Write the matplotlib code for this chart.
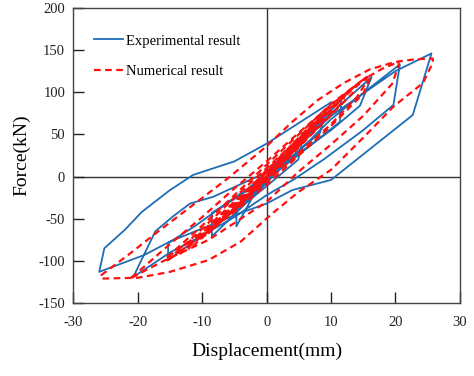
# Hysteresis curves: experimental vs numerical force-displacement

import numpy as np
import matplotlib.pyplot as plt

plt.rcParams['font.family'] = ['Liberation Serif', 'DejaVu Serif']
plt.rcParams['axes.unicode_minus'] = False

exp_x = [0, 2.5, 5.7, 4.9, 1.0, -3.0,
         -1.0, 3.0, 9.0, 8.3, 3.0, -1.5, -4.7,
         -4.7, 0.0, 5.0, 11.6, 11.4, 7.0, 2.0, -3.0, -8.5,
         -8.5, -4.0, 0.0, 5.0, 10.0, 16.3, 14.5, 10.0, 4.0, 0.0, -5.0, -10.0, -15.3,
         -15.3, -11.0, -5.0, 0.0, 5.0, 10.0, 16.0, 20.7,
         19.7, 15.0, 8.8, 4.1, 0.0, -5.0, -10.0, -15.0, -20.7,
         -17.3, -14.5, -11.9, -8.3, -2.6, 1.0, 10.0, 20.0, 25.6,
         22.7, 10.0, 4.0, 0.0, -4.0, -15.0, -19.0, -26.0,
         -25.2, -22.0, -19.4, -15.0, -11.4, -5.0, 0.0, 10.0]
exp_y = [0, 22, 47, 20, -5, -30,
         -15, 20, 75, 52, 18, -15, -59,
         -40, -5, 40, 91, 65, 38, 8, -30, -71,
         -43, -22, 5, 38, 75, 118, 84, 55, 22, -2, -40, -70, -99,
         -79, -58, -25, 0, 30, 68, 105, 133,
         85, 55, 20, -4, -22, -48, -70, -90, -119,
         -65, -47, -32, -24, -4, 8, 72, 125, 146,
         73, -4, -16, -32, -43, -77, -93, -113,
         -85, -63, -42, -16, 2, 18, 39, 88]

# numerical result, one list per loop
num_loops_x = [
    [-2, 0, 2.5, 2.5, 0, -2, -2],
    [-4, 0, 4.5, 4.5, 0, -4, -4],
    [-5, -2, 1, 4, 6, 6, 3, 0, -3, -5],
    [-6.5, -3, 0, 3, 6.5, 6.5, 3, 0, -3, -6.5, -6.5],
    [-8, -4, 0, 4, 8, 8, 4, 0, -4, -8],
    [-9, -4.5, 0, 4.5, 9, 9, 4.5, 0, -4.5, -9, -9],
    [-10.5, -5, 0, 5, 10.5, 10.5, 5, 0, -5, -10.5],
    [-12, -6, 0, 6, 12, 12, 6, 0, -6, -12, -12],
    [-13.5, -7, 0, 7, 13.5, 13.5, 7, 0, -7, -13.5],
    [-15.5, -10, -5, 0, 5, 10, 16, 16, 15, 10, 5, 0, -5, -10, -15.5, -15.5],
    [-15.5, -10, -5, 0, 5, 10, 15.5, 15.5, 14, 10, 5, 0, -5, -10, -15.5],
    [-21, -18, -15, -10, -5, 0, 5, 10, 15, 18, 20.5,
     20.5, 19.5, 15, 10, 5, 0, -5, -9, -16, -21],
    [-25.7, -21, -17, -12, -6, 0, 4, 8, 12, 16, 20, 23, 25.8,
     25.8, 24.3, 19.7, 15, 10, 5, 1, -4, -9, -15, -20, -25.7, -25.7],
]
num_loops_y = [
    [-12, 5, 22, 19, 0, -14, -12],
    [-28, 8, 36, 32, 2, -30, -28],
    [-36, -12, 14, 36, 52, 46, 20, 0, -24, -38],
    [-46, -20, 6, 28, 55, 50, 24, 0, -25, -50, -46],
    [-55, -25, 6, 36, 68, 62, 30, 0, -30, -58],
    [-64, -30, 7, 42, 78, 73, 37, 0, -35, -67, -64],
    [-72, -34, 6, 46, 88, 82, 40, -1, -40, -75],
    [-82, -38, 5, 50, 95, 90, 44, -2, -46, -86, -82],
    [-90, -44, 6, 56, 106, 100, 50, -4, -52, -92],
    [-100, -62, -25, 10, 45, 82, 120, 116, 98, 60, 25, -10, -42, -70, -100, -100],
    [-96, -58, -22, 14, 50, 86, 118, 112, 94, 62, 28, -6, -38, -66, -96],
    [-120, -100, -80, -48, -14, 18, 52, 85, 115, 128, 136,
     132, 110, 72, 38, 6, -30, -55, -75, -100, -120],
    [-117, -90, -66, -37, -2, 36, 65, 91, 111, 127, 136, 139, 140,
     135, 111, 83, 46, 8, -18, -43, -77, -99, -113, -120, -121, -117],
]

fig = plt.figure(figsize=(4.74, 3.76), dpi=100)
ax = fig.add_axes([0.155, 0.194, 0.815, 0.785])

ax.plot(exp_x, exp_y, color='#1f6db4', lw=1.3, label='Experimental result')
for i, (lx, ly) in enumerate(zip(num_loops_x, num_loops_y)):
    ax.plot(lx, ly, color='#ff1010', lw=1.6, ls=(0, (3, 2)),
            label='Numerical result' if i == 0 else None)

ax.axhline(0, color='#333333', lw=1.0, zorder=0)
ax.axvline(0, color='#333333', lw=1.0, zorder=0)

ax.set_xlim(-30, 30)
ax.set_ylim(-150, 200)
ax.set_xticks(np.arange(-30, 31, 10))
ax.set_yticks(np.arange(-150, 201, 50))
ax.tick_params(direction='in', length=8, width=1, labelsize=10.5,
               colors='#222222', pad=6)
ax.tick_params(axis='x', pad=9)
for s in ax.spines.values():
    s.set_color('#444444')
    s.set_linewidth(1.0)

ax.set_xlabel('Displacement(mm)', fontsize=14, labelpad=10)
ax.set_ylabel('Force(kN)', fontsize=14, labelpad=6)

ax.legend(loc='upper left', frameon=False, fontsize=10.5, handlelength=2.0,
          labelspacing=1.2, handletextpad=0.2, bbox_to_anchor=(0.02, 0.955))

fig.savefig('out.png')
